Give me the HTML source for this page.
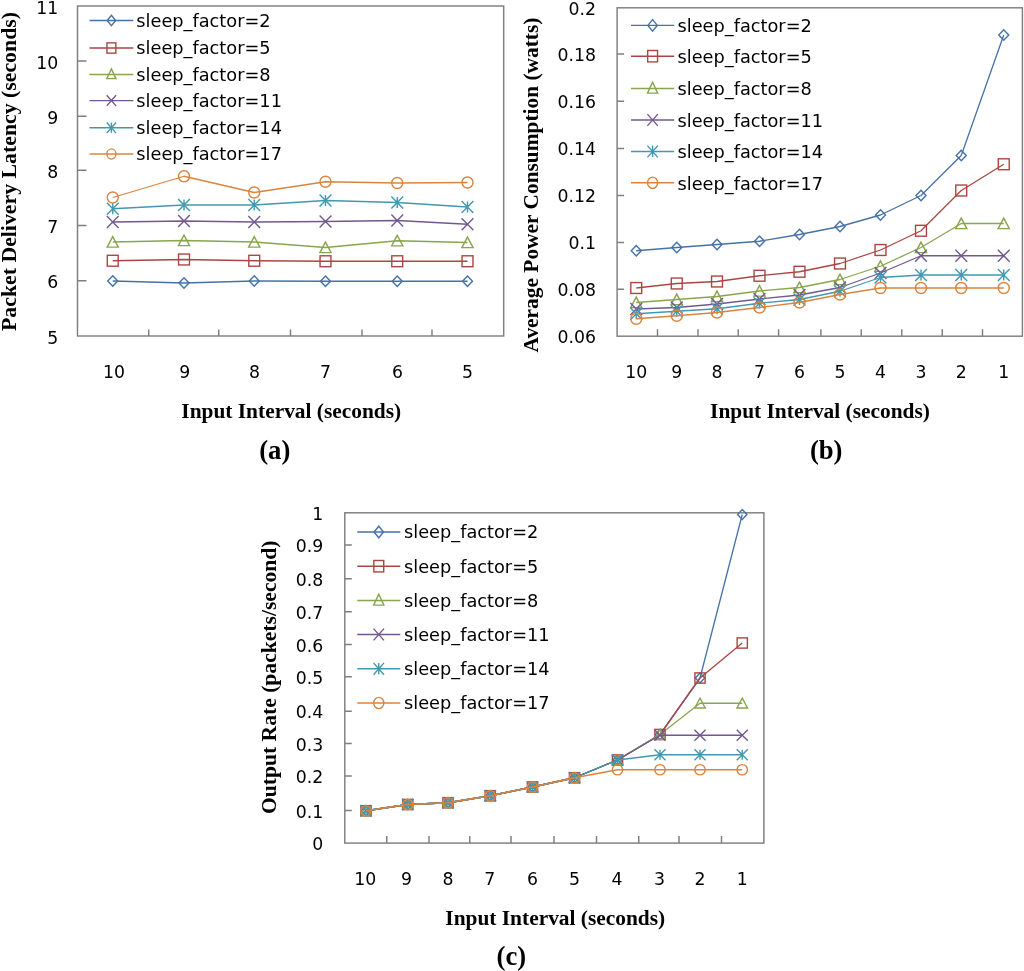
<!DOCTYPE html>
<html lang="en">
<head>
<meta charset="utf-8">
<title>Figure: sleep_factor charts</title>
<style>
html,body{margin:0;padding:0;background:#fff;}
body{width:1024px;height:971px;overflow:hidden;}
svg{display:block;filter:blur(0.4px);}
</style>
</head>
<body>
<svg width="1024" height="971" viewBox="0 0 1024 971">
<rect width="1024" height="971" fill="#fff"/>
<g id="chart-a">
<rect x="77.5" y="6" width="426.2" height="330" fill="none" stroke="#7f7f7f" stroke-width="1.45"/>
<path d="M77.5 61h9M77.5 116.25h9M77.5 170.3h9M77.5 225.5h9M77.5 280.75h9M148.75 336v-6.5M218.75 336v-6.5M290.5 336v-6.5M362 336v-6.5M432 336v-6.5" stroke="#7f7f7f" stroke-width="1.45" fill="none"/>
<g font-family='"DejaVu Sans","Liberation Sans",sans-serif' font-size="17.3" fill="#000" text-anchor="end">
<text x="58.3" y="13.6">11</text>
<text x="58.3" y="68.6">10</text>
<text x="58.3" y="123.85">9</text>
<text x="58.3" y="177.9">8</text>
<text x="58.3" y="233.1">7</text>
<text x="58.3" y="288.35">6</text>
<text x="58.3" y="343.6">5</text>
</g>
<g font-family='"DejaVu Sans","Liberation Sans",sans-serif' font-size="17.3" fill="#000" text-anchor="middle">
<text x="114" y="378">10</text>
<text x="184.75" y="378">9</text>
<text x="254.6" y="378">8</text>
<text x="325.5" y="378">7</text>
<text x="397.5" y="378">6</text>
<text x="467.5" y="378">5</text>
</g>
<polyline points="112.75,281 184,283 254.25,281 325.5,281.25 397.25,281.25 467.5,281.25" fill="none" stroke="#4572A7" stroke-width="1.3" stroke-linejoin="round"/>
<path d="M112.75 275.8L117.75 281L112.75 286.2L107.75 281Z" stroke="#4572A7" stroke-width="1.4" fill="none"/>
<path d="M184 277.8L189 283L184 288.2L179 283Z" stroke="#4572A7" stroke-width="1.4" fill="none"/>
<path d="M254.25 275.8L259.25 281L254.25 286.2L249.25 281Z" stroke="#4572A7" stroke-width="1.4" fill="none"/>
<path d="M325.5 276.05L330.5 281.25L325.5 286.45L320.5 281.25Z" stroke="#4572A7" stroke-width="1.4" fill="none"/>
<path d="M397.25 276.05L402.25 281.25L397.25 286.45L392.25 281.25Z" stroke="#4572A7" stroke-width="1.4" fill="none"/>
<path d="M467.5 276.05L472.5 281.25L467.5 286.45L462.5 281.25Z" stroke="#4572A7" stroke-width="1.4" fill="none"/>
<polyline points="112.75,260.75 184,259.5 254.25,260.75 325.5,261.25 397.25,261.25 467.5,261.25" fill="none" stroke="#AA4643" stroke-width="1.3" stroke-linejoin="round"/>
<rect x="107.3" y="255.3" width="10.9" height="10.9" stroke="#AA4643" stroke-width="1.4" fill="none"/>
<rect x="178.55" y="254.05" width="10.9" height="10.9" stroke="#AA4643" stroke-width="1.4" fill="none"/>
<rect x="248.8" y="255.3" width="10.9" height="10.9" stroke="#AA4643" stroke-width="1.4" fill="none"/>
<rect x="320.05" y="255.8" width="10.9" height="10.9" stroke="#AA4643" stroke-width="1.4" fill="none"/>
<rect x="391.8" y="255.8" width="10.9" height="10.9" stroke="#AA4643" stroke-width="1.4" fill="none"/>
<rect x="462.05" y="255.8" width="10.9" height="10.9" stroke="#AA4643" stroke-width="1.4" fill="none"/>
<polyline points="112.75,242 184,240.5 254.25,242 325.5,247.5 397.25,240.75 467.5,242.5" fill="none" stroke="#89A54E" stroke-width="1.3" stroke-linejoin="round"/>
<path d="M112.75 236.6L118.35 247.1L107.15 247.1Z" stroke="#89A54E" stroke-width="1.4" fill="none"/>
<path d="M184 235.1L189.6 245.6L178.4 245.6Z" stroke="#89A54E" stroke-width="1.4" fill="none"/>
<path d="M254.25 236.6L259.85 247.1L248.65 247.1Z" stroke="#89A54E" stroke-width="1.4" fill="none"/>
<path d="M325.5 242.1L331.1 252.6L319.9 252.6Z" stroke="#89A54E" stroke-width="1.4" fill="none"/>
<path d="M397.25 235.35L402.85 245.85L391.65 245.85Z" stroke="#89A54E" stroke-width="1.4" fill="none"/>
<path d="M467.5 237.1L473.1 247.6L461.9 247.6Z" stroke="#89A54E" stroke-width="1.4" fill="none"/>
<polyline points="112.75,222 184,221 254.25,222 325.5,221.5 397.25,220.5 467.5,224.25" fill="none" stroke="#71588F" stroke-width="1.3" stroke-linejoin="round"/>
<path d="M106.85 216.1L118.65 227.9M118.65 216.1L106.85 227.9" stroke="#71588F" stroke-width="1.4" fill="none"/>
<path d="M178.1 215.1L189.9 226.9M189.9 215.1L178.1 226.9" stroke="#71588F" stroke-width="1.4" fill="none"/>
<path d="M248.35 216.1L260.15 227.9M260.15 216.1L248.35 227.9" stroke="#71588F" stroke-width="1.4" fill="none"/>
<path d="M319.6 215.6L331.4 227.4M331.4 215.6L319.6 227.4" stroke="#71588F" stroke-width="1.4" fill="none"/>
<path d="M391.35 214.6L403.15 226.4M403.15 214.6L391.35 226.4" stroke="#71588F" stroke-width="1.4" fill="none"/>
<path d="M461.6 218.35L473.4 230.15M473.4 218.35L461.6 230.15" stroke="#71588F" stroke-width="1.4" fill="none"/>
<polyline points="112.75,208.75 184,205 254.25,205 325.5,200.5 397.25,202.5 467.5,207" fill="none" stroke="#4198AF" stroke-width="1.3" stroke-linejoin="round"/>
<path d="M106.85 202.85L118.65 214.65M118.65 202.85L106.85 214.65M112.75 203.35L112.75 214.15" stroke="#4198AF" stroke-width="1.4" fill="none"/>
<path d="M178.1 199.1L189.9 210.9M189.9 199.1L178.1 210.9M184 199.6L184 210.4" stroke="#4198AF" stroke-width="1.4" fill="none"/>
<path d="M248.35 199.1L260.15 210.9M260.15 199.1L248.35 210.9M254.25 199.6L254.25 210.4" stroke="#4198AF" stroke-width="1.4" fill="none"/>
<path d="M319.6 194.6L331.4 206.4M331.4 194.6L319.6 206.4M325.5 195.1L325.5 205.9" stroke="#4198AF" stroke-width="1.4" fill="none"/>
<path d="M391.35 196.6L403.15 208.4M403.15 196.6L391.35 208.4M397.25 197.1L397.25 207.9" stroke="#4198AF" stroke-width="1.4" fill="none"/>
<path d="M461.6 201.1L473.4 212.9M473.4 201.1L461.6 212.9M467.5 201.6L467.5 212.4" stroke="#4198AF" stroke-width="1.4" fill="none"/>
<polyline points="112.75,197.5 184,176.25 254.25,192.5 325.5,181.75 397.25,183 467.5,182.5" fill="none" stroke="#DB843D" stroke-width="1.3" stroke-linejoin="round"/>
<circle cx="112.75" cy="197.5" r="5.5" stroke="#DB843D" stroke-width="1.4" fill="none"/>
<circle cx="184" cy="176.25" r="5.5" stroke="#DB843D" stroke-width="1.4" fill="none"/>
<circle cx="254.25" cy="192.5" r="5.5" stroke="#DB843D" stroke-width="1.4" fill="none"/>
<circle cx="325.5" cy="181.75" r="5.5" stroke="#DB843D" stroke-width="1.4" fill="none"/>
<circle cx="397.25" cy="183" r="5.5" stroke="#DB843D" stroke-width="1.4" fill="none"/>
<circle cx="467.5" cy="182.5" r="5.5" stroke="#DB843D" stroke-width="1.4" fill="none"/>
<g font-family='"DejaVu Sans","Liberation Sans",sans-serif' font-size="17.75" fill="#000">
<path d="M89.5 20.5H133.3" stroke="#4572A7" stroke-width="1.4000000000000001"/>
<path d="M111.4 15.28L115.63 20.5L111.4 25.72L107.17 20.5Z" stroke="#4572A7" stroke-width="1.4" fill="none"/>
<text x="136.3" y="26.8">sleep_factor=2</text>
<path d="M89.5 48H133.3" stroke="#AA4643" stroke-width="1.4000000000000001"/>
<rect x="106.95" y="42.87" width="8.91" height="10.26" stroke="#AA4643" stroke-width="1.4" fill="none"/>
<text x="136.3" y="54.3">sleep_factor=5</text>
<path d="M89.5 74.5H133.3" stroke="#89A54E" stroke-width="1.4000000000000001"/>
<path d="M111.4 68.83L115.99 78.64L106.81 78.64Z" stroke="#89A54E" stroke-width="1.4" fill="none"/>
<text x="136.3" y="80.8">sleep_factor=8</text>
<path d="M89.5 100.6H133.3" stroke="#71588F" stroke-width="1.4000000000000001"/>
<path d="M106.72 95.29L116.08 105.91M116.08 95.29L106.72 105.91" stroke="#71588F" stroke-width="1.4" fill="none"/>
<text x="136.3" y="106.9">sleep_factor=11</text>
<path d="M89.5 127.8H133.3" stroke="#4198AF" stroke-width="1.4000000000000001"/>
<path d="M106.72 122.49L116.08 133.11M116.08 122.49L106.72 133.11M111.4 122.49L111.4 132.71" stroke="#4198AF" stroke-width="1.4" fill="none"/>
<text x="136.3" y="134.1">sleep_factor=14</text>
<path d="M89.5 154H133.3" stroke="#DB843D" stroke-width="1.4000000000000001"/>
<ellipse cx="111.4" cy="154" rx="4.54" ry="5.09" stroke="#DB843D" stroke-width="1.4" fill="none"/>
<text x="136.3" y="160.3">sleep_factor=17</text>
</g>
<g font-family='"Liberation Serif",serif' font-weight="bold" fill="#000" text-anchor="middle">
<text x="291.25" y="418" font-size="21.4">Input Interval (seconds)</text>
<text transform="translate(15.5 171.5) rotate(-90)" font-size="21.8">Packet Delivery Latency (seconds)</text>
<text x="274.75" y="458.6" font-size="26.7">(a)</text>
</g>
</g>
<g id="chart-b">
<rect x="617.1" y="7.8" width="405.3" height="328.4" fill="none" stroke="#7f7f7f" stroke-width="1.45"/>
<path d="M617.1 54h7M617.1 101.25h7M617.1 148.5h7M617.1 195.4h7M617.1 242.4h7M617.1 289.25h7M657.5 336.2v-7M698 336.2v-7M738.25 336.2v-7M778.6 336.2v-7M820.9 336.2v-7M861.25 336.2v-7M901.75 336.2v-7M942.25 336.2v-7M982.5 336.2v-7" stroke="#7f7f7f" stroke-width="1.45" fill="none"/>
<g font-family='"DejaVu Sans","Liberation Sans",sans-serif' font-size="17.3" fill="#000" text-anchor="end">
<text x="596.1" y="14.7">0.2</text>
<text x="596.1" y="60.9">0.18</text>
<text x="596.1" y="108.15">0.16</text>
<text x="596.1" y="155.4">0.14</text>
<text x="596.1" y="202.3">0.12</text>
<text x="596.1" y="249.3">0.1</text>
<text x="596.1" y="296.15">0.08</text>
<text x="596.1" y="343.1">0.06</text>
</g>
<g font-family='"DejaVu Sans","Liberation Sans",sans-serif' font-size="17.3" fill="#000" text-anchor="middle">
<text x="636.25" y="378.2">10</text>
<text x="676.75" y="378.2">9</text>
<text x="717" y="378.2">8</text>
<text x="759.5" y="378.2">7</text>
<text x="799.5" y="378.2">6</text>
<text x="840" y="378.2">5</text>
<text x="880.5" y="378.2">4</text>
<text x="921" y="378.2">3</text>
<text x="961.25" y="378.2">2</text>
<text x="1003.75" y="378.2">1</text>
</g>
<polyline points="636.25,250.75 676.75,247.5 717,244.5 759.5,241.25 799.5,234.5 840,226.5 880.5,215 921,195.5 961.25,155.5 1003.75,35" fill="none" stroke="#4572A7" stroke-width="1.3" stroke-linejoin="round"/>
<path d="M636.25 245.55L641.25 250.75L636.25 255.95L631.25 250.75Z" stroke="#4572A7" stroke-width="1.4" fill="none"/>
<path d="M676.75 242.3L681.75 247.5L676.75 252.7L671.75 247.5Z" stroke="#4572A7" stroke-width="1.4" fill="none"/>
<path d="M717 239.3L722 244.5L717 249.7L712 244.5Z" stroke="#4572A7" stroke-width="1.4" fill="none"/>
<path d="M759.5 236.05L764.5 241.25L759.5 246.45L754.5 241.25Z" stroke="#4572A7" stroke-width="1.4" fill="none"/>
<path d="M799.5 229.3L804.5 234.5L799.5 239.7L794.5 234.5Z" stroke="#4572A7" stroke-width="1.4" fill="none"/>
<path d="M840 221.3L845 226.5L840 231.7L835 226.5Z" stroke="#4572A7" stroke-width="1.4" fill="none"/>
<path d="M880.5 209.8L885.5 215L880.5 220.2L875.5 215Z" stroke="#4572A7" stroke-width="1.4" fill="none"/>
<path d="M921 190.3L926 195.5L921 200.7L916 195.5Z" stroke="#4572A7" stroke-width="1.4" fill="none"/>
<path d="M961.25 150.3L966.25 155.5L961.25 160.7L956.25 155.5Z" stroke="#4572A7" stroke-width="1.4" fill="none"/>
<path d="M1003.75 29.8L1008.75 35L1003.75 40.2L998.75 35Z" stroke="#4572A7" stroke-width="1.4" fill="none"/>
<polyline points="636.25,288 676.75,283.5 717,281.5 759.5,275.75 799.5,271.75 840,263.5 880.5,250 921,230.75 961.25,190.5 1003.75,164.25" fill="none" stroke="#AA4643" stroke-width="1.3" stroke-linejoin="round"/>
<rect x="630.8" y="282.55" width="10.9" height="10.9" stroke="#AA4643" stroke-width="1.4" fill="none"/>
<rect x="671.3" y="278.05" width="10.9" height="10.9" stroke="#AA4643" stroke-width="1.4" fill="none"/>
<rect x="711.55" y="276.05" width="10.9" height="10.9" stroke="#AA4643" stroke-width="1.4" fill="none"/>
<rect x="754.05" y="270.3" width="10.9" height="10.9" stroke="#AA4643" stroke-width="1.4" fill="none"/>
<rect x="794.05" y="266.3" width="10.9" height="10.9" stroke="#AA4643" stroke-width="1.4" fill="none"/>
<rect x="834.55" y="258.05" width="10.9" height="10.9" stroke="#AA4643" stroke-width="1.4" fill="none"/>
<rect x="875.05" y="244.55" width="10.9" height="10.9" stroke="#AA4643" stroke-width="1.4" fill="none"/>
<rect x="915.55" y="225.3" width="10.9" height="10.9" stroke="#AA4643" stroke-width="1.4" fill="none"/>
<rect x="955.8" y="185.05" width="10.9" height="10.9" stroke="#AA4643" stroke-width="1.4" fill="none"/>
<rect x="998.3" y="158.8" width="10.9" height="10.9" stroke="#AA4643" stroke-width="1.4" fill="none"/>
<polyline points="636.25,302.5 676.75,299.5 717,296.5 759.5,291 799.5,287.5 840,279.5 880.5,266.25 921,247.5 961.25,223.5 1003.75,223.5" fill="none" stroke="#89A54E" stroke-width="1.3" stroke-linejoin="round"/>
<path d="M636.25 297.1L641.85 307.6L630.65 307.6Z" stroke="#89A54E" stroke-width="1.4" fill="none"/>
<path d="M676.75 294.1L682.35 304.6L671.15 304.6Z" stroke="#89A54E" stroke-width="1.4" fill="none"/>
<path d="M717 291.1L722.6 301.6L711.4 301.6Z" stroke="#89A54E" stroke-width="1.4" fill="none"/>
<path d="M759.5 285.6L765.1 296.1L753.9 296.1Z" stroke="#89A54E" stroke-width="1.4" fill="none"/>
<path d="M799.5 282.1L805.1 292.6L793.9 292.6Z" stroke="#89A54E" stroke-width="1.4" fill="none"/>
<path d="M840 274.1L845.6 284.6L834.4 284.6Z" stroke="#89A54E" stroke-width="1.4" fill="none"/>
<path d="M880.5 260.85L886.1 271.35L874.9 271.35Z" stroke="#89A54E" stroke-width="1.4" fill="none"/>
<path d="M921 242.1L926.6 252.6L915.4 252.6Z" stroke="#89A54E" stroke-width="1.4" fill="none"/>
<path d="M961.25 218.1L966.85 228.6L955.65 228.6Z" stroke="#89A54E" stroke-width="1.4" fill="none"/>
<path d="M1003.75 218.1L1009.35 228.6L998.15 228.6Z" stroke="#89A54E" stroke-width="1.4" fill="none"/>
<polyline points="636.25,309 676.75,307.5 717,304 759.5,299 799.5,295 840,287.5 880.5,273 921,255.75 961.25,255.75 1003.75,255.75" fill="none" stroke="#71588F" stroke-width="1.3" stroke-linejoin="round"/>
<path d="M630.35 303.1L642.15 314.9M642.15 303.1L630.35 314.9" stroke="#71588F" stroke-width="1.4" fill="none"/>
<path d="M670.85 301.6L682.65 313.4M682.65 301.6L670.85 313.4" stroke="#71588F" stroke-width="1.4" fill="none"/>
<path d="M711.1 298.1L722.9 309.9M722.9 298.1L711.1 309.9" stroke="#71588F" stroke-width="1.4" fill="none"/>
<path d="M753.6 293.1L765.4 304.9M765.4 293.1L753.6 304.9" stroke="#71588F" stroke-width="1.4" fill="none"/>
<path d="M793.6 289.1L805.4 300.9M805.4 289.1L793.6 300.9" stroke="#71588F" stroke-width="1.4" fill="none"/>
<path d="M834.1 281.6L845.9 293.4M845.9 281.6L834.1 293.4" stroke="#71588F" stroke-width="1.4" fill="none"/>
<path d="M874.6 267.1L886.4 278.9M886.4 267.1L874.6 278.9" stroke="#71588F" stroke-width="1.4" fill="none"/>
<path d="M915.1 249.85L926.9 261.65M926.9 249.85L915.1 261.65" stroke="#71588F" stroke-width="1.4" fill="none"/>
<path d="M955.35 249.85L967.15 261.65M967.15 249.85L955.35 261.65" stroke="#71588F" stroke-width="1.4" fill="none"/>
<path d="M997.85 249.85L1009.65 261.65M1009.65 249.85L997.85 261.65" stroke="#71588F" stroke-width="1.4" fill="none"/>
<polyline points="636.25,313.75 676.75,311.25 717,308.75 759.5,303.25 799.5,299.5 840,291.25 880.5,277.5 921,275 961.25,275 1003.75,275" fill="none" stroke="#4198AF" stroke-width="1.3" stroke-linejoin="round"/>
<path d="M630.35 307.85L642.15 319.65M642.15 307.85L630.35 319.65M636.25 308.35L636.25 319.15" stroke="#4198AF" stroke-width="1.4" fill="none"/>
<path d="M670.85 305.35L682.65 317.15M682.65 305.35L670.85 317.15M676.75 305.85L676.75 316.65" stroke="#4198AF" stroke-width="1.4" fill="none"/>
<path d="M711.1 302.85L722.9 314.65M722.9 302.85L711.1 314.65M717 303.35L717 314.15" stroke="#4198AF" stroke-width="1.4" fill="none"/>
<path d="M753.6 297.35L765.4 309.15M765.4 297.35L753.6 309.15M759.5 297.85L759.5 308.65" stroke="#4198AF" stroke-width="1.4" fill="none"/>
<path d="M793.6 293.6L805.4 305.4M805.4 293.6L793.6 305.4M799.5 294.1L799.5 304.9" stroke="#4198AF" stroke-width="1.4" fill="none"/>
<path d="M834.1 285.35L845.9 297.15M845.9 285.35L834.1 297.15M840 285.85L840 296.65" stroke="#4198AF" stroke-width="1.4" fill="none"/>
<path d="M874.6 271.6L886.4 283.4M886.4 271.6L874.6 283.4M880.5 272.1L880.5 282.9" stroke="#4198AF" stroke-width="1.4" fill="none"/>
<path d="M915.1 269.1L926.9 280.9M926.9 269.1L915.1 280.9M921 269.6L921 280.4" stroke="#4198AF" stroke-width="1.4" fill="none"/>
<path d="M955.35 269.1L967.15 280.9M967.15 269.1L955.35 280.9M961.25 269.6L961.25 280.4" stroke="#4198AF" stroke-width="1.4" fill="none"/>
<path d="M997.85 269.1L1009.65 280.9M1009.65 269.1L997.85 280.9M1003.75 269.6L1003.75 280.4" stroke="#4198AF" stroke-width="1.4" fill="none"/>
<polyline points="636.25,318.75 676.75,315.75 717,312.5 759.5,307.5 799.5,302.5 840,294.5 880.5,288 921,288 961.25,288 1003.75,288" fill="none" stroke="#DB843D" stroke-width="1.3" stroke-linejoin="round"/>
<circle cx="636.25" cy="318.75" r="5.5" stroke="#DB843D" stroke-width="1.4" fill="none"/>
<circle cx="676.75" cy="315.75" r="5.5" stroke="#DB843D" stroke-width="1.4" fill="none"/>
<circle cx="717" cy="312.5" r="5.5" stroke="#DB843D" stroke-width="1.4" fill="none"/>
<circle cx="759.5" cy="307.5" r="5.5" stroke="#DB843D" stroke-width="1.4" fill="none"/>
<circle cx="799.5" cy="302.5" r="5.5" stroke="#DB843D" stroke-width="1.4" fill="none"/>
<circle cx="840" cy="294.5" r="5.5" stroke="#DB843D" stroke-width="1.4" fill="none"/>
<circle cx="880.5" cy="288" r="5.5" stroke="#DB843D" stroke-width="1.4" fill="none"/>
<circle cx="921" cy="288" r="5.5" stroke="#DB843D" stroke-width="1.4" fill="none"/>
<circle cx="961.25" cy="288" r="5.5" stroke="#DB843D" stroke-width="1.4" fill="none"/>
<circle cx="1003.75" cy="288" r="5.5" stroke="#DB843D" stroke-width="1.4" fill="none"/>
<g font-family='"DejaVu Sans","Liberation Sans",sans-serif' font-size="17.75" fill="#000">
<path d="M631 25.4H674.2" stroke="#4572A7" stroke-width="1.4000000000000001"/>
<path d="M652.6 19.6L657.3 25.4L652.6 31.2L647.9 25.4Z" stroke="#4572A7" stroke-width="1.4" fill="none"/>
<text x="677.5" y="32.3">sleep_factor=2</text>
<path d="M631 56.2H674.2" stroke="#AA4643" stroke-width="1.4000000000000001"/>
<rect x="647.65" y="50.5" width="9.9" height="11.4" stroke="#AA4643" stroke-width="1.4" fill="none"/>
<text x="677.5" y="63.1">sleep_factor=5</text>
<path d="M631 88.5H674.2" stroke="#89A54E" stroke-width="1.4000000000000001"/>
<path d="M652.6 82.2L657.7 93.1L647.5 93.1Z" stroke="#89A54E" stroke-width="1.4" fill="none"/>
<text x="677.5" y="95.4">sleep_factor=8</text>
<path d="M631 120H674.2" stroke="#71588F" stroke-width="1.4000000000000001"/>
<path d="M647.4 114.1L657.8 125.9M657.8 114.1L647.4 125.9" stroke="#71588F" stroke-width="1.4" fill="none"/>
<text x="677.5" y="126.9">sleep_factor=11</text>
<path d="M631 151.5H674.2" stroke="#4198AF" stroke-width="1.4000000000000001"/>
<path d="M647.4 145.6L657.8 157.4M657.8 145.6L647.4 157.4M652.6 145.6L652.6 157" stroke="#4198AF" stroke-width="1.4" fill="none"/>
<text x="677.5" y="158.4">sleep_factor=14</text>
<path d="M631 182.8H674.2" stroke="#DB843D" stroke-width="1.4000000000000001"/>
<ellipse cx="652.6" cy="182.8" rx="5.05" ry="5.65" stroke="#DB843D" stroke-width="1.4" fill="none"/>
<text x="677.5" y="189.7">sleep_factor=17</text>
</g>
<g font-family='"Liberation Serif",serif' font-weight="bold" fill="#000" text-anchor="middle">
<text x="820" y="417.5" font-size="21.4">Input Interval (seconds)</text>
<text transform="translate(538 185) rotate(-90)" font-size="21.4">Average Power Consumption (watts)</text>
<text x="826.2" y="458.6" font-size="26.7">(b)</text>
</g>
</g>
<g id="chart-c">
<rect x="344.8" y="512.8" width="419.1" height="330.3" fill="none" stroke="#7f7f7f" stroke-width="1.45"/>
<path d="M344.8 545h7M344.8 578.75h7M344.8 611.75h7M344.8 644.5h7M344.8 676.75h7M344.8 711.25h7M344.8 743.5h7M344.8 776h7M344.8 810.5h7M386.75 843.1v-7M429 843.1v-7M469.75 843.1v-7M511 843.1v-7M554 843.1v-7M596.5 843.1v-7M638.75 843.1v-7M679 843.1v-7M721.5 843.1v-7" stroke="#7f7f7f" stroke-width="1.45" fill="none"/>
<g font-family='"DejaVu Sans","Liberation Sans",sans-serif' font-size="17.3" fill="#000" text-anchor="end">
<text x="323.2" y="519.8">1</text>
<text x="323.2" y="552">0.9</text>
<text x="323.2" y="585.75">0.8</text>
<text x="323.2" y="618.75">0.7</text>
<text x="323.2" y="651.5">0.6</text>
<text x="323.2" y="683.75">0.5</text>
<text x="323.2" y="718.25">0.4</text>
<text x="323.2" y="750.5">0.3</text>
<text x="323.2" y="783">0.2</text>
<text x="323.2" y="817.5">0.1</text>
<text x="323.2" y="850.1">0</text>
</g>
<g font-family='"DejaVu Sans","Liberation Sans",sans-serif' font-size="17.3" fill="#000" text-anchor="middle">
<text x="365.25" y="885.1">10</text>
<text x="406.5" y="885.1">9</text>
<text x="448" y="885.1">8</text>
<text x="489.75" y="885.1">7</text>
<text x="532.5" y="885.1">6</text>
<text x="574.5" y="885.1">5</text>
<text x="617" y="885.1">4</text>
<text x="659.5" y="885.1">3</text>
<text x="700" y="885.1">2</text>
<text x="742.25" y="885.1">1</text>
</g>
<polyline points="366,810.75 407.75,804.5 448,802.75 490.25,795.75 532.5,787 574.5,777.75 617.5,760 660,734.5 700,678 742.25,514.5" fill="none" stroke="#4572A7" stroke-width="1.3" stroke-linejoin="round"/>
<path d="M366 805.85L370.7 810.75L366 815.65L361.3 810.75Z" stroke="#4572A7" stroke-width="1.4" fill="none"/>
<path d="M407.75 799.6L412.45 804.5L407.75 809.4L403.05 804.5Z" stroke="#4572A7" stroke-width="1.4" fill="none"/>
<path d="M448 797.85L452.7 802.75L448 807.65L443.3 802.75Z" stroke="#4572A7" stroke-width="1.4" fill="none"/>
<path d="M490.25 790.85L494.95 795.75L490.25 800.65L485.55 795.75Z" stroke="#4572A7" stroke-width="1.4" fill="none"/>
<path d="M532.5 782.1L537.2 787L532.5 791.9L527.8 787Z" stroke="#4572A7" stroke-width="1.4" fill="none"/>
<path d="M574.5 772.85L579.2 777.75L574.5 782.65L569.8 777.75Z" stroke="#4572A7" stroke-width="1.4" fill="none"/>
<path d="M617.5 755.1L622.2 760L617.5 764.9L612.8 760Z" stroke="#4572A7" stroke-width="1.4" fill="none"/>
<path d="M660 729.6L664.7 734.5L660 739.4L655.3 734.5Z" stroke="#4572A7" stroke-width="1.4" fill="none"/>
<path d="M700 673.1L704.7 678L700 682.9L695.3 678Z" stroke="#4572A7" stroke-width="1.4" fill="none"/>
<path d="M742.25 509.6L746.95 514.5L742.25 519.4L737.55 514.5Z" stroke="#4572A7" stroke-width="1.4" fill="none"/>
<polyline points="366,810.75 407.75,804.5 448,802.75 490.25,795.75 532.5,787 574.5,777.75 617.5,760 660,734.5 700,678 742.25,643" fill="none" stroke="#AA4643" stroke-width="1.3" stroke-linejoin="round"/>
<rect x="360.88" y="805.63" width="10.25" height="10.25" stroke="#AA4643" stroke-width="1.4" fill="none"/>
<rect x="402.63" y="799.38" width="10.25" height="10.25" stroke="#AA4643" stroke-width="1.4" fill="none"/>
<rect x="442.88" y="797.63" width="10.25" height="10.25" stroke="#AA4643" stroke-width="1.4" fill="none"/>
<rect x="485.13" y="790.63" width="10.25" height="10.25" stroke="#AA4643" stroke-width="1.4" fill="none"/>
<rect x="527.38" y="781.88" width="10.25" height="10.25" stroke="#AA4643" stroke-width="1.4" fill="none"/>
<rect x="569.38" y="772.63" width="10.25" height="10.25" stroke="#AA4643" stroke-width="1.4" fill="none"/>
<rect x="612.38" y="754.88" width="10.25" height="10.25" stroke="#AA4643" stroke-width="1.4" fill="none"/>
<rect x="654.88" y="729.38" width="10.25" height="10.25" stroke="#AA4643" stroke-width="1.4" fill="none"/>
<rect x="694.88" y="672.88" width="10.25" height="10.25" stroke="#AA4643" stroke-width="1.4" fill="none"/>
<rect x="737.13" y="637.88" width="10.25" height="10.25" stroke="#AA4643" stroke-width="1.4" fill="none"/>
<polyline points="366,810.75 407.75,804.5 448,802.75 490.25,795.75 532.5,787 574.5,777.75 617.5,760 660,734.5 700,703.25 742.25,703.25" fill="none" stroke="#89A54E" stroke-width="1.3" stroke-linejoin="round"/>
<path d="M366 805.67L371.26 815.54L360.74 815.54Z" stroke="#89A54E" stroke-width="1.4" fill="none"/>
<path d="M407.75 799.42L413.01 809.29L402.49 809.29Z" stroke="#89A54E" stroke-width="1.4" fill="none"/>
<path d="M448 797.67L453.26 807.54L442.74 807.54Z" stroke="#89A54E" stroke-width="1.4" fill="none"/>
<path d="M490.25 790.67L495.51 800.54L484.99 800.54Z" stroke="#89A54E" stroke-width="1.4" fill="none"/>
<path d="M532.5 781.92L537.76 791.79L527.24 791.79Z" stroke="#89A54E" stroke-width="1.4" fill="none"/>
<path d="M574.5 772.67L579.76 782.54L569.24 782.54Z" stroke="#89A54E" stroke-width="1.4" fill="none"/>
<path d="M617.5 754.92L622.76 764.79L612.24 764.79Z" stroke="#89A54E" stroke-width="1.4" fill="none"/>
<path d="M660 729.42L665.26 739.29L654.74 739.29Z" stroke="#89A54E" stroke-width="1.4" fill="none"/>
<path d="M700 698.17L705.26 708.04L694.74 708.04Z" stroke="#89A54E" stroke-width="1.4" fill="none"/>
<path d="M742.25 698.17L747.51 708.04L736.99 708.04Z" stroke="#89A54E" stroke-width="1.4" fill="none"/>
<polyline points="366,810.75 407.75,804.5 448,802.75 490.25,795.75 532.5,787 574.5,777.75 617.5,760 660,735.25 700,735.25 742.25,735.25" fill="none" stroke="#71588F" stroke-width="1.3" stroke-linejoin="round"/>
<path d="M360.45 805.2L371.55 816.3M371.55 805.2L360.45 816.3" stroke="#71588F" stroke-width="1.4" fill="none"/>
<path d="M402.2 798.95L413.3 810.05M413.3 798.95L402.2 810.05" stroke="#71588F" stroke-width="1.4" fill="none"/>
<path d="M442.45 797.2L453.55 808.3M453.55 797.2L442.45 808.3" stroke="#71588F" stroke-width="1.4" fill="none"/>
<path d="M484.7 790.2L495.8 801.3M495.8 790.2L484.7 801.3" stroke="#71588F" stroke-width="1.4" fill="none"/>
<path d="M526.95 781.45L538.05 792.55M538.05 781.45L526.95 792.55" stroke="#71588F" stroke-width="1.4" fill="none"/>
<path d="M568.95 772.2L580.05 783.3M580.05 772.2L568.95 783.3" stroke="#71588F" stroke-width="1.4" fill="none"/>
<path d="M611.95 754.45L623.05 765.55M623.05 754.45L611.95 765.55" stroke="#71588F" stroke-width="1.4" fill="none"/>
<path d="M654.45 729.7L665.55 740.8M665.55 729.7L654.45 740.8" stroke="#71588F" stroke-width="1.4" fill="none"/>
<path d="M694.45 729.7L705.55 740.8M705.55 729.7L694.45 740.8" stroke="#71588F" stroke-width="1.4" fill="none"/>
<path d="M736.7 729.7L747.8 740.8M747.8 729.7L736.7 740.8" stroke="#71588F" stroke-width="1.4" fill="none"/>
<polyline points="366,810.75 407.75,804.5 448,802.75 490.25,795.75 532.5,787 574.5,777.75 617.5,760 660,754.75 700,754.75 742.25,754.75" fill="none" stroke="#4198AF" stroke-width="1.3" stroke-linejoin="round"/>
<path d="M360.45 805.2L371.55 816.3M371.55 805.2L360.45 816.3M366 805.67L366 815.83" stroke="#4198AF" stroke-width="1.4" fill="none"/>
<path d="M402.2 798.95L413.3 810.05M413.3 798.95L402.2 810.05M407.75 799.42L407.75 809.58" stroke="#4198AF" stroke-width="1.4" fill="none"/>
<path d="M442.45 797.2L453.55 808.3M453.55 797.2L442.45 808.3M448 797.67L448 807.83" stroke="#4198AF" stroke-width="1.4" fill="none"/>
<path d="M484.7 790.2L495.8 801.3M495.8 790.2L484.7 801.3M490.25 790.67L490.25 800.83" stroke="#4198AF" stroke-width="1.4" fill="none"/>
<path d="M526.95 781.45L538.05 792.55M538.05 781.45L526.95 792.55M532.5 781.92L532.5 792.08" stroke="#4198AF" stroke-width="1.4" fill="none"/>
<path d="M568.95 772.2L580.05 783.3M580.05 772.2L568.95 783.3M574.5 772.67L574.5 782.83" stroke="#4198AF" stroke-width="1.4" fill="none"/>
<path d="M611.95 754.45L623.05 765.55M623.05 754.45L611.95 765.55M617.5 754.92L617.5 765.08" stroke="#4198AF" stroke-width="1.4" fill="none"/>
<path d="M654.45 749.2L665.55 760.3M665.55 749.2L654.45 760.3M660 749.67L660 759.83" stroke="#4198AF" stroke-width="1.4" fill="none"/>
<path d="M694.45 749.2L705.55 760.3M705.55 749.2L694.45 760.3M700 749.67L700 759.83" stroke="#4198AF" stroke-width="1.4" fill="none"/>
<path d="M736.7 749.2L747.8 760.3M747.8 749.2L736.7 760.3M742.25 749.67L742.25 759.83" stroke="#4198AF" stroke-width="1.4" fill="none"/>
<polyline points="366,810.75 407.75,804.5 448,802.75 490.25,795.75 532.5,787 574.5,777.75 617.5,769.75 660,769.75 700,769.75 742.25,769.75" fill="none" stroke="#DB843D" stroke-width="1.3" stroke-linejoin="round"/>
<circle cx="366" cy="810.75" r="5.17" stroke="#DB843D" stroke-width="1.4" fill="none"/>
<circle cx="407.75" cy="804.5" r="5.17" stroke="#DB843D" stroke-width="1.4" fill="none"/>
<circle cx="448" cy="802.75" r="5.17" stroke="#DB843D" stroke-width="1.4" fill="none"/>
<circle cx="490.25" cy="795.75" r="5.17" stroke="#DB843D" stroke-width="1.4" fill="none"/>
<circle cx="532.5" cy="787" r="5.17" stroke="#DB843D" stroke-width="1.4" fill="none"/>
<circle cx="574.5" cy="777.75" r="5.17" stroke="#DB843D" stroke-width="1.4" fill="none"/>
<circle cx="617.5" cy="769.75" r="5.17" stroke="#DB843D" stroke-width="1.4" fill="none"/>
<circle cx="660" cy="769.75" r="5.17" stroke="#DB843D" stroke-width="1.4" fill="none"/>
<circle cx="700" cy="769.75" r="5.17" stroke="#DB843D" stroke-width="1.4" fill="none"/>
<circle cx="742.25" cy="769.75" r="5.17" stroke="#DB843D" stroke-width="1.4" fill="none"/>
<g font-family='"DejaVu Sans","Liberation Sans",sans-serif' font-size="17.75" fill="#000">
<path d="M357.25 532H400.3" stroke="#4572A7" stroke-width="1.4000000000000001"/>
<path d="M378.77 526.2L383.47 532L378.77 537.8L374.07 532Z" stroke="#4572A7" stroke-width="1.4" fill="none"/>
<text x="404" y="538.3">sleep_factor=2</text>
<path d="M357.25 566.2H400.3" stroke="#AA4643" stroke-width="1.4000000000000001"/>
<rect x="373.82" y="560.5" width="9.9" height="11.4" stroke="#AA4643" stroke-width="1.4" fill="none"/>
<text x="404" y="572.5">sleep_factor=5</text>
<path d="M357.25 600.5H400.3" stroke="#89A54E" stroke-width="1.4000000000000001"/>
<path d="M378.77 594.2L383.88 605.1L373.67 605.1Z" stroke="#89A54E" stroke-width="1.4" fill="none"/>
<text x="404" y="606.8">sleep_factor=8</text>
<path d="M357.25 634.5H400.3" stroke="#71588F" stroke-width="1.4000000000000001"/>
<path d="M373.57 628.6L383.97 640.4M383.97 628.6L373.57 640.4" stroke="#71588F" stroke-width="1.4" fill="none"/>
<text x="404" y="640.8">sleep_factor=11</text>
<path d="M357.25 668.8H400.3" stroke="#4198AF" stroke-width="1.4000000000000001"/>
<path d="M373.57 662.9L383.97 674.7M383.97 662.9L373.57 674.7M378.77 662.9L378.77 674.3" stroke="#4198AF" stroke-width="1.4" fill="none"/>
<text x="404" y="675.1">sleep_factor=14</text>
<path d="M357.25 703H400.3" stroke="#DB843D" stroke-width="1.4000000000000001"/>
<ellipse cx="378.77" cy="703" rx="5.05" ry="5.65" stroke="#DB843D" stroke-width="1.4" fill="none"/>
<text x="404" y="709.3">sleep_factor=17</text>
</g>
<g font-family='"Liberation Serif",serif' font-weight="bold" fill="#000" text-anchor="middle">
<text x="555.25" y="925.25" font-size="21.4">Input Interval (seconds)</text>
<text transform="translate(275.5 677.25) rotate(-90)" font-size="21.6">Output Rate (packets/second)</text>
<text x="511.4" y="965.4" font-size="26.7">(c)</text>
</g>
</g>
</svg>
</body>
</html>
